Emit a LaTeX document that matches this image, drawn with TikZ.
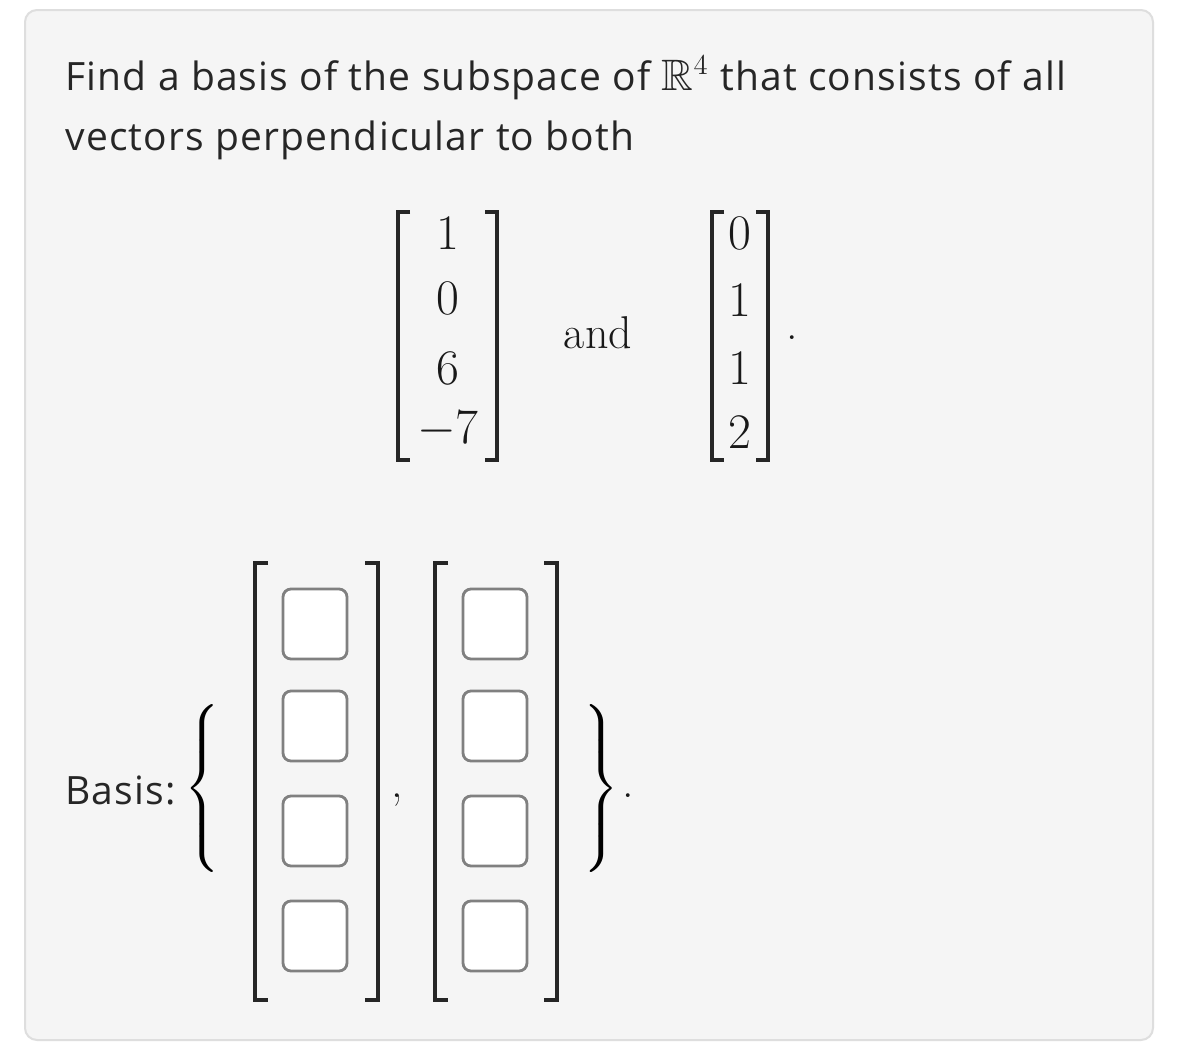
\documentclass[tikz,border=0pt]{standalone}
\usepackage{amssymb}
\usepackage{fontspec}
\setsansfont[LetterSpace=3]{Open Sans}
\begin{document}
\begin{tikzpicture}[x=0.5pt,y=-0.5pt,
  txt/.style={font=\sffamily\fontsize{19.5}{23}\selectfont,text=black!85,inner sep=0,anchor=base west},
  num/.style={font=\fontsize{23}{27}\selectfont,inner sep=0,text=black!90},
  brk/.style={line width=1.6pt,black!85},
  inbox/.style={draw=black!50,line width=1.4pt,fill=white,rounded corners=4pt,minimum width=32pt,minimum height=35pt,inner sep=0}]
\useasboundingbox (0,0) rectangle (1179,1050);
\fill[white] (0,0) rectangle (1179,1050);
\draw[draw=black!13,fill=black!4,line width=1pt,rounded corners=6pt] (25,10) rectangle (1153,1040);
\node[txt] (l1) at (65,90) {Find a basis of the subspace of {\fontsize{22}{26}\selectfont$\mathbb{R}^4$} that consists of all};
\node[txt] (l2) at (65,150) {vectors perpendicular to both};
% matrix 1
\draw[brk] (410,212) -- (398,212) -- (398,460) -- (410,460);
\draw[brk] (485,212) -- (497,212) -- (497,460) -- (485,460);
\node[num] (a1) at (448,233) {$1$};
\node[num] (a2) at (448,298) {$0$};
\node[num] (a3) at (448,368) {$6$};
\node[num] (a4) at (448,430) {$-7$};
\node[num] (and) at (598,333) {and};
\draw[brk] (724,212) -- (712,212) -- (712,460) -- (724,460);
\draw[brk] (756,212) -- (768,212) -- (768,460) -- (756,460);
\node[num] (b1) at (740,233) {$0$};
\node[num] (b2) at (740,300) {$1$};
\node[num] (b3) at (740,368) {$1$};
\node[num] (b4) at (740,432) {$2$};
\node[num] (d1) at (792,338) {.};
% basis
\node[txt,anchor=west] (bl) at (65,790) {Basis:};
\node[inner sep=0,font=\fontsize{20}{24}\selectfont] (lb) at (203,788) {$\left\{\vrule height 36pt depth 36pt width 0pt\right.$};
\draw[brk] (268,563) -- (255,563) -- (255,1000) -- (268,1000);
\draw[brk] (365,563) -- (378,563) -- (378,1000) -- (365,1000);
\foreach \y [count=\i] in {624,726,831,936} {
  \node[inbox] (p\i) at (315,\y) {};
  \node[inbox] (q\i) at (495,\y) {};
}
\node[num] (cm) at (397,800) {,};
\draw[brk] (448,563) -- (435,563) -- (435,1000) -- (448,1000);
\draw[brk] (544,563) -- (557,563) -- (557,1000) -- (544,1000);
\node[inner sep=0,font=\fontsize{20}{24}\selectfont] (rb) at (600,788) {$\left.\vrule height 36pt depth 36pt width 0pt\right\}$};
\node[num] (d2) at (628,796) {.};
\end{tikzpicture}
\end{document}
